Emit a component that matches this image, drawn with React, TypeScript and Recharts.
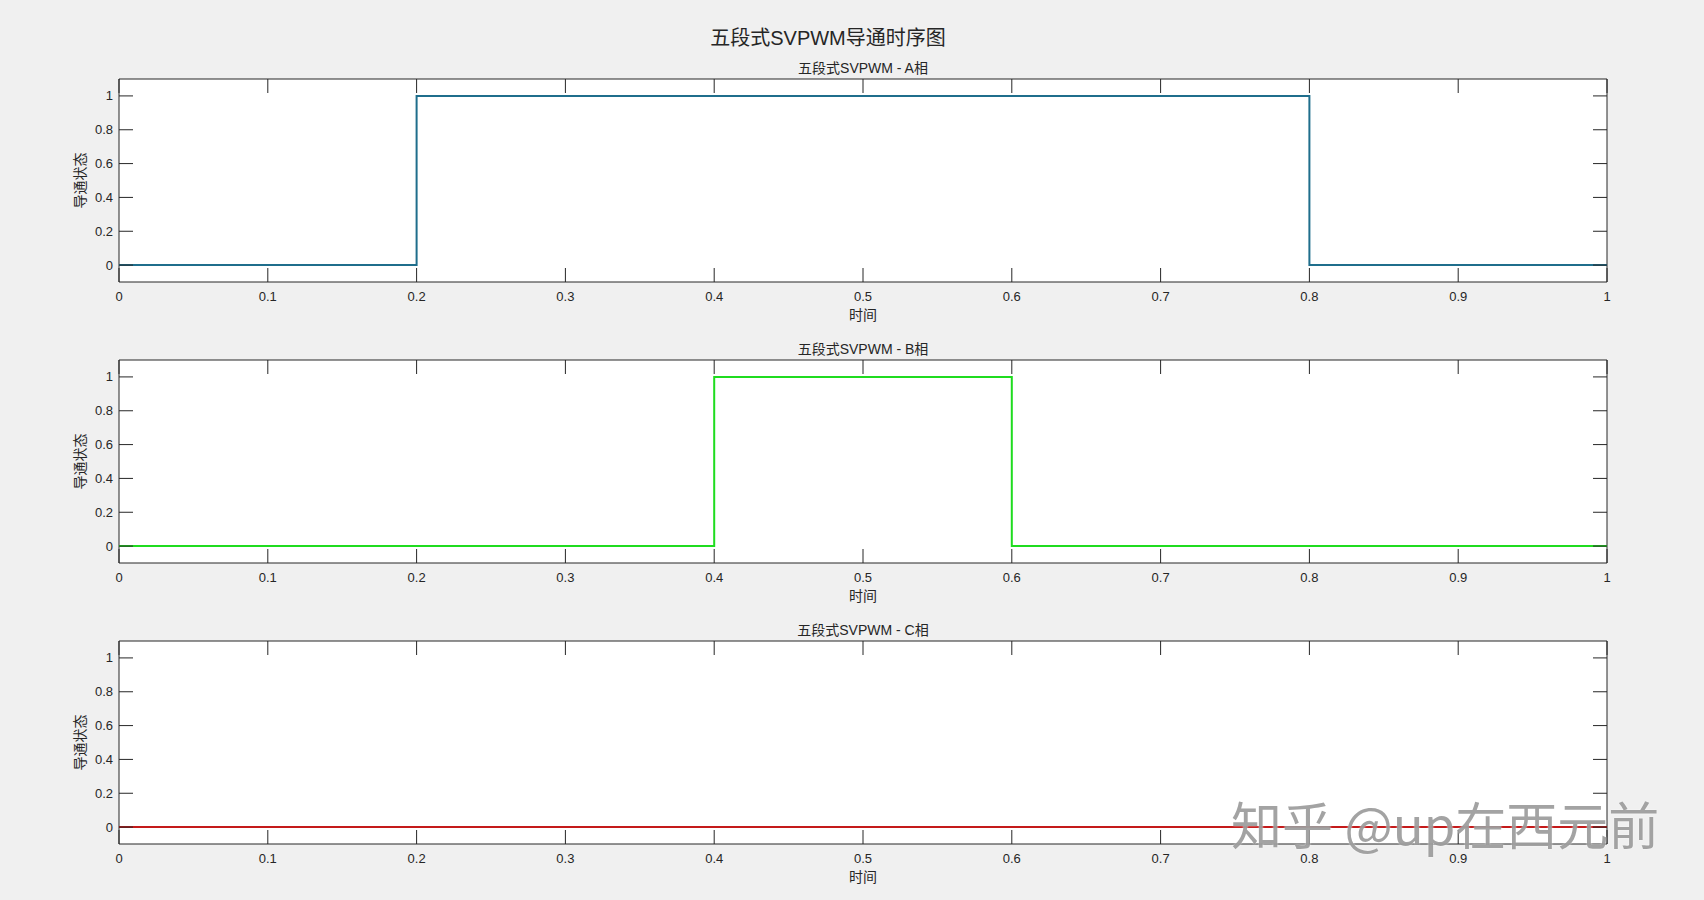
import React from 'react';
import { LineChart, Line, XAxis, YAxis, CartesianGrid, ReferenceArea } from 'recharts';

const timePoints = [0, 0.2, 0.4, 0.6, 0.8, 1];
const phaseA = [0, 1, 1, 1, 0, 0];
const phaseB = [0, 0, 1, 0, 0, 0];
const phaseC = [0, 0, 0, 0, 0, 0];
const xTicks = [0, 0.1, 0.2, 0.3, 0.4, 0.5, 0.6, 0.7, 0.8, 0.9, 1];
const yTicks = [0, 0.2, 0.4, 0.6, 0.8, 1];
const mainTitle = '五段式SVPWM导通时序图';
const panelTitles = ['五段式SVPWM - A相', '五段式SVPWM - B相', '五段式SVPWM - C相'];
const xLabel = '时间';
const yLabel = '导通状态';
const watermark = '知乎 @up在西元前';

const FONT = '"Liberation Sans", Arial, "Noto Sans CJK SC", sans-serif';
const AXIS = '#262626';
const TEXT = '#262626';
const PLOT_LEFT = 119;
const PLOT_RIGHT = 1607;
const PLOT_W = PLOT_RIGHT - PLOT_LEFT;
const PLOT_H = 203;
const TICK = 14;
const panelTops = [79, 360, 641];
const colors = ['#1f6e8c', '#1fdc1f', '#c41a1a'];
const series = [phaseA, phaseB, phaseC];

const fmt = (v: number) => String(Math.round(v * 10) / 10);

const XTick = (props: any) => {
  const { x, y, payload } = props;
  return (
    <g>
      <line x1={x} x2={x} y1={y} y2={y - TICK} stroke={AXIS} strokeWidth={1} />
      <line x1={x} x2={x} y1={y - PLOT_H} y2={y - PLOT_H + TICK} stroke={AXIS} strokeWidth={1} />
      <text x={x} y={y + 14.5} dy="0.35em" textAnchor="middle" fill={TEXT} fontSize={13} fontFamily={FONT}>
        {fmt(payload.value)}
      </text>
    </g>
  );
};

const YTick = (props: any) => {
  const { x, y, payload } = props;
  return (
    <g>
      <line x1={x} x2={x + TICK} y1={y} y2={y} stroke={AXIS} strokeWidth={1} />
      <line x1={x + PLOT_W} x2={x + PLOT_W - TICK} y1={y} y2={y} stroke={AXIS} strokeWidth={1} />
      <text x={x - 6} y={y} dy="0.35em" textAnchor="end" fill={TEXT} fontSize={13} fontFamily={FONT}>
        {fmt(payload.value)}
      </text>
    </g>
  );
};

const Panel = ({ idx }: { idx: number }) => {
  const data = timePoints.map((t, i) => ({ t, v: series[idx][i] }));
  const top = panelTops[idx];
  return (
    <>
      <div
        style={{
          position: 'absolute',
          left: PLOT_LEFT,
          width: PLOT_W,
          top: top - 21,
          height: 20,
          lineHeight: '20px',
          textAlign: 'center',
          fontSize: 14,
          color: TEXT,
          fontFamily: FONT,
        }}
      >
        {panelTitles[idx]}
      </div>
      <div style={{ position: 'absolute', left: 0, top: top - 1 }}>
        <LineChart
          width={1704}
          height={1 + PLOT_H + 66}
          data={data}
          margin={{ top: 1, right: 1704 - PLOT_RIGHT, bottom: 0, left: 41 }}
        >
          <CartesianGrid fill="#ffffff" horizontal={false} vertical={false} />
          <XAxis
            dataKey="t"
            type="number"
            domain={[0, 1]}
            ticks={xTicks}
            interval={0}
            tickSize={0}
            tickMargin={0}
            tickLine={false}
            axisLine={false}
            tick={XTick}
            height={66}
            allowDataOverflow
            label={{ value: xLabel, position: 'center', fill: TEXT, fontSize: 14, fontFamily: FONT }}
          />
          <YAxis
            type="number"
            domain={[-0.1, 1.1]}
            ticks={yTicks}
            interval={0}
            tickSize={0}
            tickMargin={0}
            tickLine={false}
            axisLine={false}
            tick={YTick}
            width={PLOT_LEFT - 41}
            allowDataOverflow
            label={{ value: yLabel, position: 'center', angle: -90, fill: TEXT, fontSize: 14, fontFamily: FONT }}
          />
          <Line
            type="stepAfter"
            dataKey="v"
            stroke={colors[idx]}
            strokeWidth={2}
            dot={false}
            activeDot={false}
            isAnimationActive={false}
          />
          <ReferenceArea x1={0} x2={1} y1={-0.1} y2={1.1} fill="none" stroke={AXIS} strokeWidth={1} fillOpacity={0} />
        </LineChart>
      </div>
    </>
  );
};

export default function App() {
  return (
    <div
      style={{
        position: 'absolute',
        left: 0,
        top: 0,
        width: 1704,
        height: 900,
        background: '#f0f0f0',
        fontFamily: FONT,
        overflow: 'hidden',
      }}
    >
      <div
        style={{
          position: 'absolute',
          left: 628,
          width: 400,
          top: 25,
          height: 26,
          lineHeight: '26px',
          textAlign: 'center',
          fontSize: 20,
          color: TEXT,
        }}
      >
        {mainTitle}
      </div>
      {[0, 1, 2].map((i) => (
        <Panel key={i} idx={i} />
      ))}
      <div
        style={{
          position: 'absolute',
          left: 1231,
          top: 799,
          fontSize: 51,
          lineHeight: '48px',
          height: 48,
          fontFamily: '"Noto Sans CJK SC", sans-serif',
          color: 'rgba(140,140,140,0.8)',
          whiteSpace: 'pre',
          textShadow: '0 0 2px rgba(255,255,255,0.8)',
        }}
      >
        {watermark}
      </div>
    </div>
  );
}
